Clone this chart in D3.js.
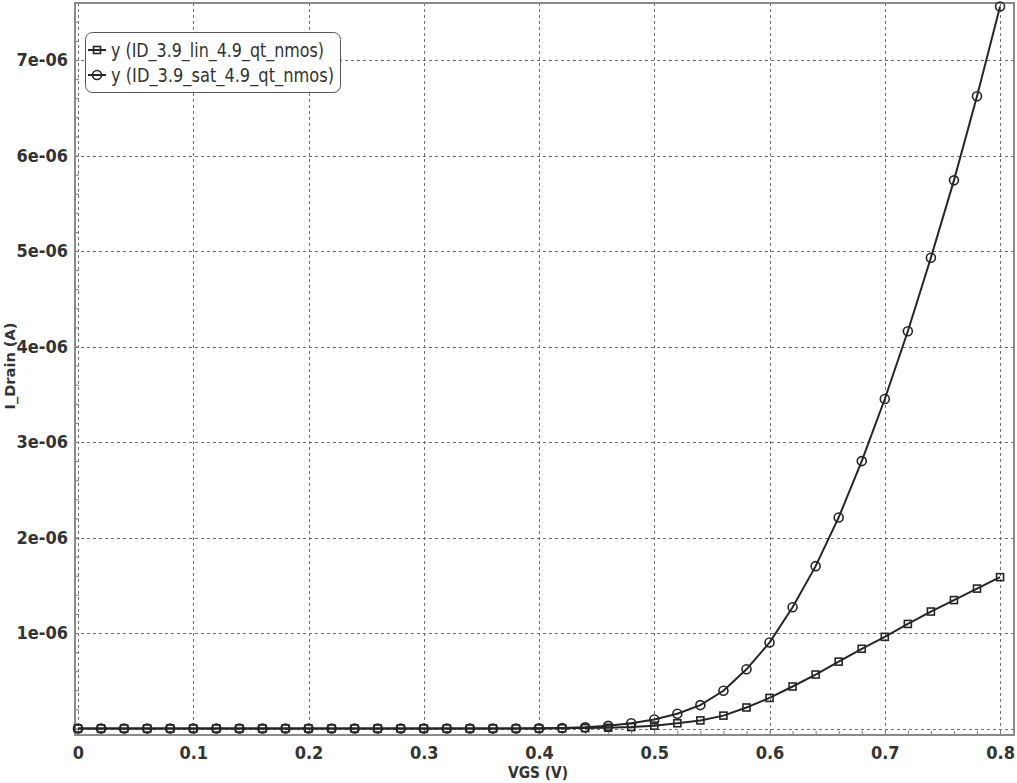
<!DOCTYPE html>
<html><head><meta charset="utf-8">
<script src="https://cdn.jsdelivr.net/npm/d3@7"></script>
<style>
body{margin:0;background:#fff;}
svg{display:block;}
.tick text{font-family:"DejaVu Sans Condensed","DejaVu Sans",sans-serif;font-stretch:condensed;font-weight:bold;font-size:18px;fill:#333;}
</style></head>
<body><svg id="c" width="1017" height="783"></svg>
<script>
const vgs = [0,0.02,0.04,0.06,0.08,0.1,0.12,0.14,0.16,0.18,0.2,0.22,0.24,0.26,0.28,0.3,0.32,0.34,0.36,0.38,0.4,0.42,0.44,0.46,0.48,0.5,0.52,0.54,0.56,0.58,0.6,0.62,0.64,0.66,0.68,0.7,0.72,0.74,0.76,0.78,0.8];
const idLin = [0,0,0,0,0,0,0,0,0,0,0,0,0,0,0,0,0,0,0,0,
  0.001e-6,0.002e-6,0.004e-6,0.008e-6,0.015e-6,0.03e-6,0.055e-6,0.085e-6,0.135e-6,0.22e-6,0.32e-6,0.44e-6,0.565e-6,0.70e-6,0.835e-6,0.96e-6,1.095e-6,1.225e-6,1.345e-6,1.465e-6,1.585e-6];
const idSat = [0,0,0,0,0,0,0,0,0,0,0,0,0,0,0,0,0,0,0,0,
  0.002e-6,0.005e-6,0.012e-6,0.028e-6,0.055e-6,0.095e-6,0.155e-6,0.245e-6,0.395e-6,0.62e-6,0.90e-6,1.27e-6,1.70e-6,2.21e-6,2.80e-6,3.45e-6,4.16e-6,4.93e-6,5.74e-6,6.62e-6,7.56e-6];
const xTicks = [0,0.1,0.2,0.3,0.4,0.5,0.6,0.7,0.8];
const yTicks = [1e-6,2e-6,3e-6,4e-6,5e-6,6e-6,7e-6];
const yGrid = [0,1e-6,2e-6,3e-6,4e-6,5e-6,6e-6,7e-6];
const seriesNames = ["y (ID_3.9_lin_4.9_qt_nmos)","y (ID_3.9_sat_4.9_qt_nmos)"];
const xLabel = "VGS (V)", yLabel = "I_Drain (A)";

const L=75,R=1014,T=3,B=735;
const x = d3.scaleLinear().domain([-0.0026,0.8121]).range([L,R]);
const y = d3.scaleLinear().domain([-0.068e-6,7.597e-6]).range([B,T]);
const svg = d3.select("#c");

// grid
const grid = svg.append("g").attr("stroke","#6f6f6f").attr("stroke-width",1).attr("stroke-dasharray","3,3");
grid.selectAll("line.v").data(xTicks).join("line").attr("class","v")
  .attr("x1",d=>Math.round(x(d))+0.5).attr("x2",d=>Math.round(x(d))+0.5).attr("y1",T).attr("y2",B);
grid.selectAll("line.h").data(yGrid).join("line").attr("class","h")
  .attr("y1",d=>Math.round(y(d))+0.5).attr("y2",d=>Math.round(y(d))+0.5).attr("x1",L).attr("x2",R);

// minor ticks
const minorX = d3.range(0,41).map(i=>i*0.02);
const minorY = d3.range(0,39).map(i=>i*0.2e-6);
svg.append("g").call(d3.axisBottom(x).tickValues(minorX).tickSize(-4).tickFormat(""))
  .attr("transform",`translate(0,${B})`).call(g=>g.select(".domain").remove())
  .selectAll("line").attr("stroke","#777");
svg.append("g").call(d3.axisLeft(y).tickValues(minorY).tickSize(-4).tickFormat(""))
  .attr("transform",`translate(${L},0)`).call(g=>g.select(".domain").remove())
  .selectAll("line").attr("stroke","#777");

// frame
svg.append("rect").attr("x",L).attr("y",T).attr("width",R-L).attr("height",B-T)
  .attr("fill","none").attr("stroke","#8a8a8a").attr("stroke-width",2);

// tick labels
svg.append("g").attr("transform",`translate(0,${B})`)
  .call(d3.axisBottom(x).tickValues(xTicks).tickSize(0).tickPadding(11).tickFormat(d=>d3.format("")(+d.toFixed(1))))
  .call(g=>g.select(".domain").remove());
svg.append("g").attr("transform",`translate(${L},0)`)
  .call(d3.axisLeft(y).tickValues(yTicks).tickSize(0).tickPadding(7).tickFormat(d=>Math.round(d*1e6)+"e-06"))
  .call(g=>g.select(".domain").remove());

// axis titles
svg.append("text").attr("x",538).attr("y",778).attr("text-anchor","middle")
  .attr("font-family","DejaVu Sans, sans-serif").attr("font-weight","bold").attr("font-size",16)
  .attr("textLength",60).attr("lengthAdjust","spacingAndGlyphs").attr("fill","#333").text(xLabel);
svg.append("text").attr("transform",`translate(15,366) rotate(-90)`).attr("text-anchor","middle")
  .attr("font-family","DejaVu Sans, sans-serif").attr("font-weight","bold").attr("font-size",14)
  .attr("textLength",87).attr("lengthAdjust","spacingAndGlyphs").attr("fill","#333").text(yLabel);

// lines
const lineCol="#262626";
const line = d3.line().x((d,i)=>x(vgs[i])).y(d=>y(d));
const plot = svg.append("g");
plot.append("path").datum(idLin).attr("d",line).attr("fill","none").attr("stroke",lineCol).attr("stroke-width",2);
plot.append("path").datum(idSat).attr("d",line).attr("fill","none").attr("stroke",lineCol).attr("stroke-width",2);
plot.selectAll("rect.m").data(idLin).join("rect").attr("class","m")
  .attr("x",(d,i)=>x(vgs[i])-3.5).attr("y",d=>y(d)-3.5).attr("width",7).attr("height",7)
  .attr("fill","none").attr("stroke",lineCol).attr("stroke-width",1.6);
plot.selectAll("circle.m").data(idSat).join("circle").attr("class","m")
  .attr("cx",(d,i)=>x(vgs[i])).attr("cy",d=>y(d)).attr("r",4.5)
  .attr("fill","none").attr("stroke",lineCol).attr("stroke-width",1.6);

// legend
const lg = svg.append("g");
lg.append("rect").attr("x",85.5).attr("y",32.5).attr("width",255).attr("height",60).attr("rx",7)
  .attr("fill","#fff").attr("stroke","#555").attr("stroke-width",1);
seriesNames.forEach((s,i)=>{
  const cy = 50 + i*25;
  lg.append("line").attr("x1",88).attr("x2",106).attr("y1",cy).attr("y2",cy).attr("stroke",lineCol).attr("stroke-width",2);
  if(i===0) lg.append("rect").attr("x",93.5).attr("y",cy-3.5).attr("width",7).attr("height",7).attr("fill","none").attr("stroke",lineCol).attr("stroke-width",1.6);
  else lg.append("circle").attr("cx",97).attr("cy",cy).attr("r",4.5).attr("fill","none").attr("stroke",lineCol).attr("stroke-width",1.6);
  lg.append("text").attr("x",111).attr("y",cy+7).attr("font-family","DejaVu Sans Condensed, DejaVu Sans, sans-serif")
    .attr("font-size",19).attr("textLength",i===0?213:223).attr("lengthAdjust","spacingAndGlyphs")
    .attr("fill","#333").text(s);
});
</script></body></html>
